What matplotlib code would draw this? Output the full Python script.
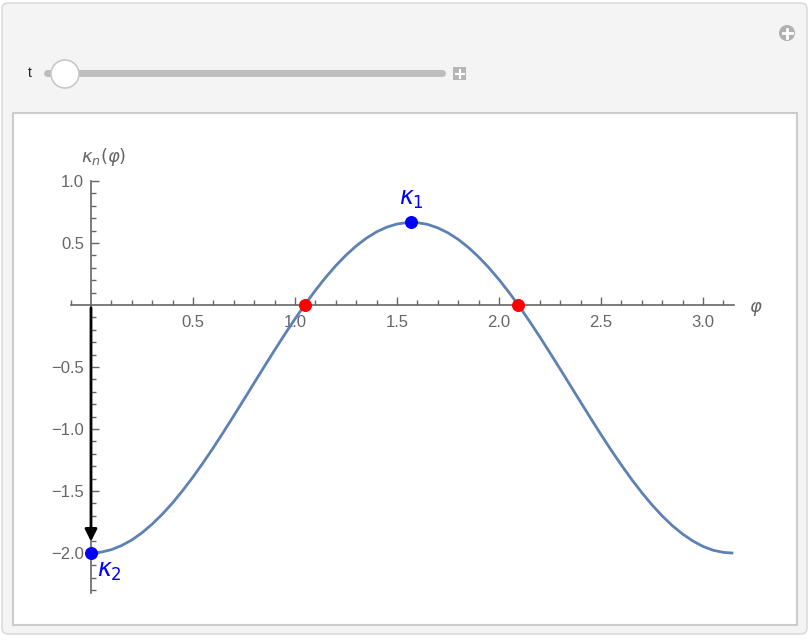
import numpy as np
import matplotlib.pyplot as plt
from matplotlib.patches import FancyBboxPatch, Rectangle, Circle
from matplotlib.ticker import FixedLocator

# curve values (every 0.05 in phi)
phi = [0.00, 0.05, 0.10, 0.15, 0.20, 0.25, 0.30, 0.35, 0.40, 0.45, 0.50, 0.55, 0.60, 0.65,
       0.70, 0.75, 0.80, 0.85, 0.90, 0.95, 1.00, 1.05, 1.10, 1.15, 1.20, 1.25, 1.30, 1.35,
       1.40, 1.45, 1.50, 1.55, 1.60, 1.65, 1.70, 1.75, 1.80, 1.85, 1.90, 1.95, 2.00, 2.05,
       2.10, 2.15, 2.20, 2.25, 2.30, 2.35, 2.40, 2.45, 2.50, 2.55, 2.60, 2.65, 2.70, 2.75,
       2.80, 2.85, 2.90, 2.95, 3.00, 3.05, 3.10, 3.1416]
kappa_n = [-2.000, -1.993, -1.973, -1.940, -1.895, -1.837, -1.767, -1.686, -1.596, -1.495,
           -1.387, -1.271, -1.150, -1.023, -0.893, -0.761, -0.628, -0.495, -0.364, -0.236,
           -0.112, 0.006, 0.118, 0.222, 0.317, 0.402, 0.476, 0.539, 0.590, 0.628, 0.653,
           0.665, 0.664, 0.650, 0.622, 0.582, 0.529, 0.464, 0.388, 0.301, 0.205, 0.100,
           -0.013, -0.132, -0.257, -0.386, -0.517, -0.650, -0.783, -0.915, -1.045, -1.171,
           -1.291, -1.406, -1.513, -1.612, -1.701, -1.780, -1.847, -1.903, -1.947, -1.978,
           -1.995, -2.000]

k1_pt = (1.5708, 0.667)
k2_pt = (0.0, -2.0)
zeros_x = [1.0472, 2.0944]
zeros_y = [0.0, 0.0]

xt = [0.5, 1.0, 1.5, 2.0, 2.5, 3.0]
yt = [-2.0, -1.5, -1.0, -0.5, 0.5, 1.0]

W, H = 810, 640
fig = plt.figure(figsize=(W / 100, H / 100), dpi=100)
fig.patch.set_facecolor('white')

# manipulate panel, drawn in pixel coords (top-left origin)
ax_k = fig.add_axes([0, 0, 1, 1], facecolor='none', zorder=0)
ax_k.set_xlim(0, W)
ax_k.set_ylim(H, 0)
ax_k.axis('off')
ax_k.add_patch(FancyBboxPatch((2, 3), 805, 631, boxstyle='round,pad=0,rounding_size=6',
                              facecolor='#f4f4f4', edgecolor='#d6d6d6', lw=1))
ax_k.add_patch(Rectangle((13, 113), 784, 512, facecolor='white', edgecolor='#cccccc', lw=1.5))

# slider
ax_k.plot([47, 442], [73, 73], color='#bdbdbd', lw=5, solid_capstyle='round')
ax_k.text(30, 73, 't', fontsize=10, ha='center', va='center', color='#222222',
          family='Liberation Sans')
ax_k.add_patch(Circle((65, 74), 14, facecolor='white', edgecolor='#c8c8c8', lw=1.2, zorder=5))
ax_k.add_patch(Rectangle((453, 67), 13, 13, facecolor='#b5b5b5', edgecolor='none'))
ax_k.plot([455.5, 463.5], [73.5, 73.5], color='white', lw=1.5)
ax_k.plot([459.5, 459.5], [69.5, 77.5], color='white', lw=1.5)
ax_k.add_patch(Circle((787, 33), 8, facecolor='#b0b0b0', edgecolor='none'))
ax_k.plot([782.5, 791.5], [33, 33], color='white', lw=2)
ax_k.plot([787, 787], [28.5, 37.5], color='white', lw=2)

# plot axes: 0 at x=91px, 204 px/unit ; y 0 at 305px, 124 px/unit
x0, x1 = -0.12, 3.3
y0, y1 = -2.45, 1.25
left = (91 + 204 * x0) / W
right = (91 + 204 * x1) / W
bottom = 1 - (305 - 124 * y0) / H
top = 1 - (305 - 124 * y1) / H
ax = fig.add_axes([left, bottom, right - left, top - bottom], facecolor='none', zorder=1)
ax.set_xlim(x0, x1)
ax.set_ylim(y0, y1)

ax.spines['top'].set_visible(False)
ax.spines['right'].set_visible(False)
ax.spines['left'].set_position(('data', 0))
ax.spines['bottom'].set_position(('data', 0))
ax.spines['left'].set_bounds(-2.32, 1.0)
ax.spines['bottom'].set_bounds(-0.1, 3.15)
for s in ('left', 'bottom'):
    ax.spines[s].set_color('#666666')
    ax.spines[s].set_linewidth(1.2)

ax.set_xticks(xt)
ax.set_xticklabels([f'{v:.1f}' for v in xt])
ax.set_yticks(yt)
ax.set_yticklabels([f'{v:.1f}'.replace('-', '\u2212') for v in yt])
xminor = [v for v in np.round(np.arange(-0.1, 3.15, 0.1), 2) if v not in xt and v != 0]
yminor = [v for v in np.round(np.arange(-2.3, 1.0, 0.1), 2) if v not in yt and v != 0]
ax.xaxis.set_minor_locator(FixedLocator(xminor))
ax.yaxis.set_minor_locator(FixedLocator(yminor))
ax.tick_params(which='both', direction='in', color='#666666', labelcolor='#666666',
               labelsize=12, width=1)
ax.tick_params(which='major', length=6)
ax.tick_params(which='minor', length=3.5)
ax.tick_params(axis='x', which='major', pad=7)
ax.tick_params(axis='y', which='major', pad=5)
for lab in ax.get_xticklabels() + ax.get_yticklabels():
    lab.set_family('Liberation Sans')

ax.text(-0.05, 1.19, r'$\kappa_n(\varphi)$', fontsize=13, color='#666666', ha='left', va='center')
ax.text(3.26, -0.03, r'$\varphi$', fontsize=13, color='#666666', ha='center', va='center')

ax.plot(phi, kappa_n, color='#5e81b5', lw=2, zorder=3, clip_on=False)
ax.annotate('', xy=(0, -1.93), xytext=(0, 0),
            arrowprops=dict(arrowstyle='-|>', color='black', lw=2, mutation_scale=18), zorder=4)
ax.scatter([k1_pt[0], k2_pt[0]], [k1_pt[1], k2_pt[1]], s=70, color='#0000ff', zorder=5, clip_on=False)
ax.scatter(zeros_x, zeros_y, s=70, color='#ff0000', zorder=5)

ax.text(k1_pt[0], k1_pt[1] + 0.09, r'$\kappa_1$', fontsize=17, color='#0000ff', ha='center', va='bottom')
ax.text(k2_pt[0] + 0.03, k2_pt[1] - 0.05, r'$\kappa_2$', fontsize=17, color='#0000ff', ha='left', va='top')

fig.savefig('out.png', dpi=100)
